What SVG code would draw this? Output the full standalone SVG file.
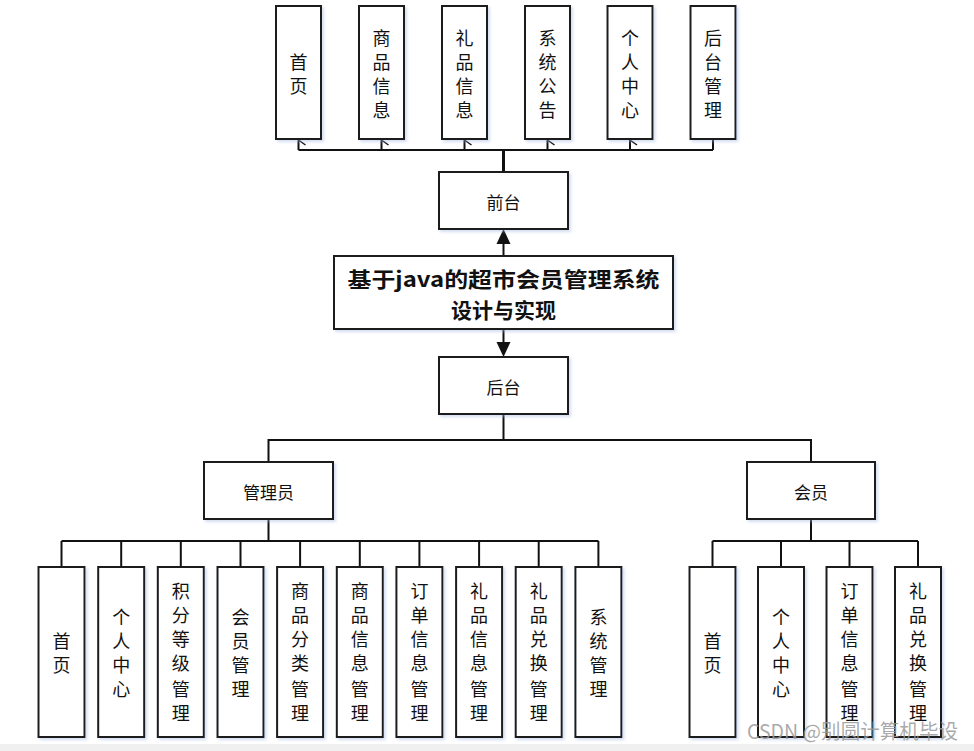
<svg xmlns="http://www.w3.org/2000/svg" width="974" height="751" viewBox="0 0 974 751">
<defs>
<filter id="sh" x="-20%" y="-20%" width="140%" height="140%">
<feDropShadow dx="2" dy="2" stdDeviation="1.5" flood-color="#9fb6e0" flood-opacity="0.45"/>
</filter>
<marker id="openArrow" viewBox="0 0 12 10" refX="6" refY="1" markerWidth="12" markerHeight="10" markerUnits="userSpaceOnUse" orient="auto-start-reverse">
<polyline points="1,8 6,1 11,8" fill="none" stroke="#111" stroke-width="1.4"/>
</marker>
</defs>
<style>
.box{fill:#fff;stroke:#1a1a1a;stroke-width:2;filter:url(#sh)}
.vt{font-family:"Noto Sans CJK SC","Noto Sans",sans-serif;font-size:18px;fill:#111;text-anchor:middle;dominant-baseline:central}
.ht{font-family:"Noto Sans CJK SC","Noto Sans",sans-serif;font-size:17px;fill:#111;text-anchor:middle;dominant-baseline:central}
.tt{font-family:"Noto Sans CJK SC","Noto Sans",sans-serif;font-size:21px;font-weight:bold;fill:#111;text-anchor:middle;dominant-baseline:central}
.ln{fill:none;stroke:#111;stroke-width:2}
.lnk{fill:none;stroke:#111;stroke-width:3}
.wm{font-family:"Noto Sans CJK SC","Noto Sans",sans-serif;font-size:20px;fill:#9a9a9a;fill-opacity:0.85}
</style>
<rect width="974" height="751" fill="#fff"/>

<g id="connectors">
<polyline class="ln" points="298.5,150 713,150"/>
<line class="ln" x1="298.5" y1="150" x2="298.5" y2="140" marker-end="url(#openArrow)"/>
<line class="ln" x1="381.5" y1="150" x2="381.5" y2="140" marker-end="url(#openArrow)"/>
<line class="ln" x1="464.5" y1="150" x2="464.5" y2="140" marker-end="url(#openArrow)"/>
<line class="ln" x1="547.5" y1="150" x2="547.5" y2="140" marker-end="url(#openArrow)"/>
<line class="ln" x1="630" y1="150" x2="630" y2="140" marker-end="url(#openArrow)"/>
<line class="ln" x1="713" y1="150" x2="713" y2="139"/>
<line class="lnk" x1="503.5" y1="149" x2="503.5" y2="172"/>
<line class="ln" x1="503.5" y1="256" x2="503.5" y2="242"/>
<polygon points="503.5,229 496.5,244 510.5,244" fill="#111"/>
<line class="ln" x1="503.5" y1="329" x2="503.5" y2="343"/>
<polygon points="503.5,357 496.5,342 510.5,342" fill="#111"/>
<polyline class="ln" points="503.5,414 503.5,440"/>
<polyline class="ln" points="268.5,462 268.5,440 811,440 811,462"/>
<line class="ln" x1="268.5" y1="519" x2="268.5" y2="541"/>
<line class="ln" x1="61.5" y1="541" x2="598.5" y2="541"/>
<line class="ln" x1="61.5" y1="541" x2="61.5" y2="567"/>
<line class="ln" x1="121.2" y1="541" x2="121.2" y2="567"/>
<line class="ln" x1="180.8" y1="541" x2="180.8" y2="567"/>
<line class="ln" x1="240.5" y1="541" x2="240.5" y2="567"/>
<line class="ln" x1="300.1" y1="541" x2="300.1" y2="567"/>
<line class="ln" x1="359.8" y1="541" x2="359.8" y2="567"/>
<line class="ln" x1="419.4" y1="541" x2="419.4" y2="567"/>
<line class="ln" x1="479.1" y1="541" x2="479.1" y2="567"/>
<line class="ln" x1="538.7" y1="541" x2="538.7" y2="567"/>
<line class="ln" x1="598.4" y1="541" x2="598.4" y2="567"/>
<line class="ln" x1="811" y1="519" x2="811" y2="541"/>
<line class="ln" x1="712.5" y1="541" x2="918" y2="541"/>
<line class="ln" x1="712.5" y1="541" x2="712.5" y2="567"/>
<line class="ln" x1="781" y1="541" x2="781" y2="567"/>
<line class="ln" x1="849.5" y1="541" x2="849.5" y2="567"/>
<line class="ln" x1="918" y1="541" x2="918" y2="567"/>
</g>

<g id="top-shouye"><rect class="box" x="276" y="6" width="45" height="133"/>
<text class="vt"><tspan x="298.5" y="60.5">首</tspan><tspan x="298.5" y="84.5">页</tspan></text></g>
<g id="top-shangpin"><rect class="box" x="359" y="6" width="45" height="133"/>
<text class="vt"><tspan x="381.5" y="36.5">商</tspan><tspan x="381.5" y="60.5">品</tspan><tspan x="381.5" y="84.5">信</tspan><tspan x="381.5" y="108.5">息</tspan></text></g>
<g id="top-lipin"><rect class="box" x="442" y="6" width="45" height="133"/>
<text class="vt"><tspan x="464.5" y="36.5">礼</tspan><tspan x="464.5" y="60.5">品</tspan><tspan x="464.5" y="84.5">信</tspan><tspan x="464.5" y="108.5">息</tspan></text></g>
<g id="top-gonggao"><rect class="box" x="525" y="6" width="45" height="133"/>
<text class="vt"><tspan x="547.5" y="36.5">系</tspan><tspan x="547.5" y="60.5">统</tspan><tspan x="547.5" y="84.5">公</tspan><tspan x="547.5" y="108.5">告</tspan></text></g>
<g id="top-geren"><rect class="box" x="607.5" y="6" width="45" height="133"/>
<text class="vt"><tspan x="630" y="36.5">个</tspan><tspan x="630" y="60.5">人</tspan><tspan x="630" y="84.5">中</tspan><tspan x="630" y="108.5">心</tspan></text></g>
<g id="top-houtai"><rect class="box" x="690.5" y="6" width="45" height="133"/>
<text class="vt"><tspan x="713" y="36.5">后</tspan><tspan x="713" y="60.5">台</tspan><tspan x="713" y="84.5">管</tspan><tspan x="713" y="108.5">理</tspan></text></g>

<g id="qiantai"><rect class="box" x="439" y="172" width="129" height="57"/>
<text class="ht" x="503.5" y="201">前台</text></g>

<g id="title"><rect class="box" x="334" y="256" width="339" height="73"/>
<text class="tt" x="503.5" y="278" textLength="312" lengthAdjust="spacingAndGlyphs">基于java的超市会员管理系统</text>
<text class="tt" x="503.5" y="309">设计与实现</text></g>

<g id="houtai"><rect class="box" x="439" y="357" width="129" height="57"/>
<text class="ht" x="503.5" y="386">后台</text></g>

<g id="guanliyuan"><rect class="box" x="204" y="462" width="129" height="57"/>
<text class="ht" x="268.5" y="491">管理员</text></g>

<g id="huiyuan"><rect class="box" x="747" y="462" width="128" height="57"/>
<text class="ht" x="811" y="491">会员</text></g>

<g id="a-shouye"><rect class="box" x="38.5" y="567" width="46" height="170"/>
<text class="vt"><tspan x="61.5" y="640">首</tspan><tspan x="61.5" y="664">页</tspan></text></g>
<g id="a-geren"><rect class="box" x="98.2" y="567" width="46" height="170"/>
<text class="vt"><tspan x="121.2" y="616">个</tspan><tspan x="121.2" y="640">人</tspan><tspan x="121.2" y="664">中</tspan><tspan x="121.2" y="688">心</tspan></text></g>
<g id="a-jifen"><rect class="box" x="157.8" y="567" width="46" height="170"/>
<text class="vt"><tspan x="180.8" y="590">积</tspan><tspan x="180.8" y="614">分</tspan><tspan x="180.8" y="638">等</tspan><tspan x="180.8" y="662">级</tspan><tspan x="180.8" y="688">管</tspan><tspan x="180.8" y="712">理</tspan></text></g>
<g id="a-huiyuan"><rect class="box" x="217.5" y="567" width="46" height="170"/>
<text class="vt"><tspan x="240.5" y="616">会</tspan><tspan x="240.5" y="640">员</tspan><tspan x="240.5" y="664">管</tspan><tspan x="240.5" y="688">理</tspan></text></g>
<g id="a-fenlei"><rect class="box" x="277.1" y="567" width="46" height="170"/>
<text class="vt"><tspan x="300.1" y="590">商</tspan><tspan x="300.1" y="614">品</tspan><tspan x="300.1" y="638">分</tspan><tspan x="300.1" y="662">类</tspan><tspan x="300.1" y="688">管</tspan><tspan x="300.1" y="712">理</tspan></text></g>
<g id="a-shangpin"><rect class="box" x="336.8" y="567" width="46" height="170"/>
<text class="vt"><tspan x="359.8" y="590">商</tspan><tspan x="359.8" y="614">品</tspan><tspan x="359.8" y="638">信</tspan><tspan x="359.8" y="662">息</tspan><tspan x="359.8" y="688">管</tspan><tspan x="359.8" y="712">理</tspan></text></g>
<g id="a-dingdan"><rect class="box" x="396.4" y="567" width="46" height="170"/>
<text class="vt"><tspan x="419.4" y="590">订</tspan><tspan x="419.4" y="614">单</tspan><tspan x="419.4" y="638">信</tspan><tspan x="419.4" y="662">息</tspan><tspan x="419.4" y="688">管</tspan><tspan x="419.4" y="712">理</tspan></text></g>
<g id="a-lipin"><rect class="box" x="456.1" y="567" width="46" height="170"/>
<text class="vt"><tspan x="479.1" y="590">礼</tspan><tspan x="479.1" y="614">品</tspan><tspan x="479.1" y="638">信</tspan><tspan x="479.1" y="662">息</tspan><tspan x="479.1" y="688">管</tspan><tspan x="479.1" y="712">理</tspan></text></g>
<g id="a-duihuan"><rect class="box" x="515.7" y="567" width="46" height="170"/>
<text class="vt"><tspan x="538.7" y="590">礼</tspan><tspan x="538.7" y="614">品</tspan><tspan x="538.7" y="638">兑</tspan><tspan x="538.7" y="662">换</tspan><tspan x="538.7" y="688">管</tspan><tspan x="538.7" y="712">理</tspan></text></g>
<g id="a-xitong"><rect class="box" x="575.4" y="567" width="46" height="170"/>
<text class="vt"><tspan x="598.4" y="616">系</tspan><tspan x="598.4" y="640">统</tspan><tspan x="598.4" y="664">管</tspan><tspan x="598.4" y="688">理</tspan></text></g>

<g id="m-shouye"><rect class="box" x="689.5" y="567" width="46" height="170"/>
<text class="vt"><tspan x="712.5" y="640">首</tspan><tspan x="712.5" y="664">页</tspan></text></g>
<g id="m-geren"><rect class="box" x="758" y="567" width="46" height="170"/>
<text class="vt"><tspan x="781" y="616">个</tspan><tspan x="781" y="640">人</tspan><tspan x="781" y="664">中</tspan><tspan x="781" y="688">心</tspan></text></g>
<g id="m-dingdan"><rect class="box" x="826.5" y="567" width="46" height="170"/>
<text class="vt"><tspan x="849.5" y="590">订</tspan><tspan x="849.5" y="614">单</tspan><tspan x="849.5" y="638">信</tspan><tspan x="849.5" y="662">息</tspan><tspan x="849.5" y="688">管</tspan><tspan x="849.5" y="712">理</tspan></text></g>
<g id="m-duihuan"><rect class="box" x="895" y="567" width="46" height="170"/>
<text class="vt"><tspan x="918" y="590">礼</tspan><tspan x="918" y="614">品</tspan><tspan x="918" y="638">兑</tspan><tspan x="918" y="662">换</tspan><tspan x="918" y="688">管</tspan><tspan x="918" y="712">理</tspan></text></g>

<rect x="0" y="744" width="974" height="7" fill="#f0f0f0"/>
<text class="wm" x="747" y="739" textLength="211" lengthAdjust="spacingAndGlyphs">CSDN @别圆计算机毕设</text>
</svg>
